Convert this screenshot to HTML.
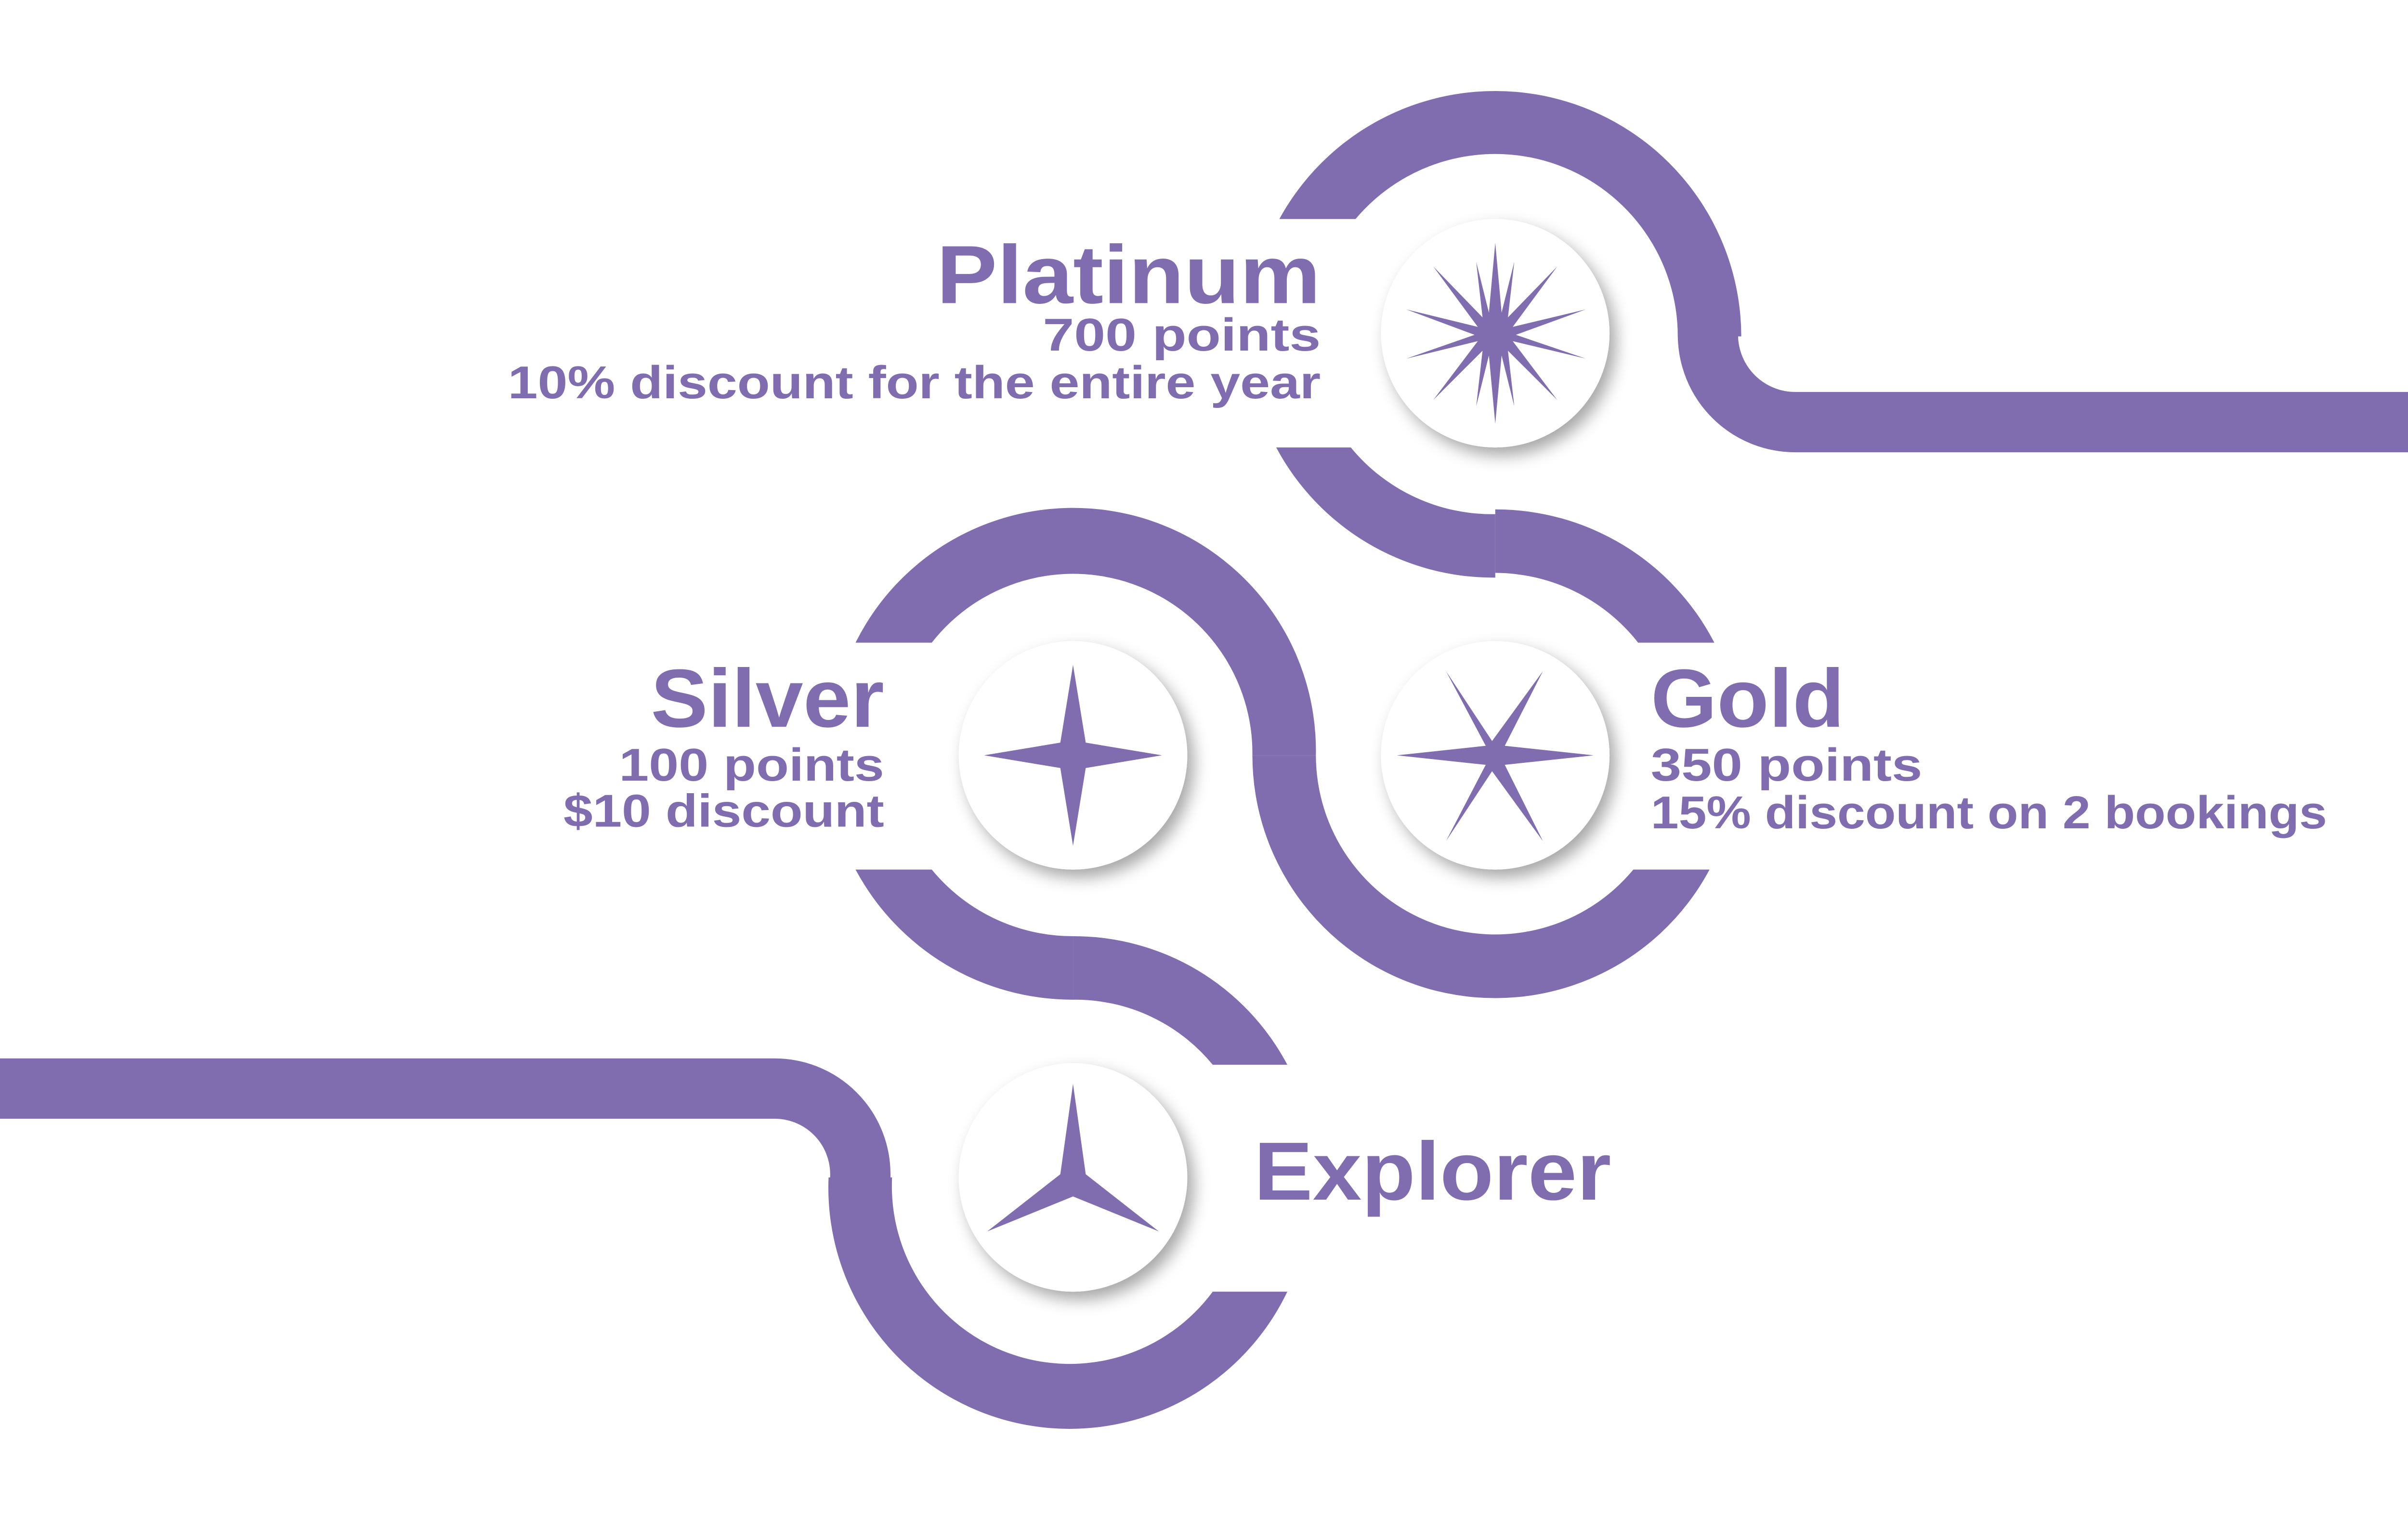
<!DOCTYPE html>
<html><head><meta charset="utf-8"><style>
html,body{margin:0;padding:0;background:#fff;}
svg{display:block;}
text{font-family:"Liberation Sans",sans-serif;font-weight:bold;fill:#7f6db0;}
</style></head><body>
<svg width="5168" height="3150" viewBox="0 0 1568 956" preserveAspectRatio="none" xmlns="http://www.w3.org/2000/svg">
<defs>
<filter id="sh" x="-30%" y="-30%" width="160%" height="160%">
<feDropShadow dx="4" dy="5" stdDeviation="5" flood-color="#000" flood-opacity="0.35"/>
</filter>
</defs>
<g fill="#7f6db0">
<path d="M806,138 A155,155 0 0 1 1097,212 L1057,212 A115,115 0 0 0 854,138 Z"/>
<path d="M804,282 A155,155 0 0 0 942,364 L942,324 A115,115 0 0 1 851,282 Z"/>
<path d="M942,321 A155,155 0 0 1 1080,405 L1032,405 A115,115 0 0 0 942,361 Z"/>
<path d="M1077,548 A153,153 0 0 1 789,476 L829,476 A113,113 0 0 0 1029,548 Z"/>
<path d="M539,405 A153,153 0 0 1 829,476 L789,476 A113,113 0 0 0 587,405 Z"/>
<path d="M539,548 A155,155 0 0 0 676,630 L676,590 A115,115 0 0 1 587,548 Z"/>
<path d="M676,590 A152,152 0 0 1 811,671 L764,671 A112,112 0 0 0 676,630 Z"/>
<path d="M811,814 A152,152 0 0 1 522,742 L562,742 A112,112 0 0 0 764,814 Z"/>
</g>
<g fill="none" stroke="#7f6db0" stroke-width="38">
<path d="M1076,205 L1076,212 A55,55 0 0 0 1131,266 L1568,266"/>
<path d="M542,748 L542,740 A54,54 0 0 0 488,686 L0,686"/>
</g>
<g fill="#fff" filter="url(#sh)">
<circle cx="942" cy="210" r="72"/>
<circle cx="676" cy="476" r="72"/>
<circle cx="942" cy="476" r="72"/>
<circle cx="676" cy="742" r="72"/>
</g>
<g fill="#7f6db0">
<polygon points="942,153 946,197 954,165 950,200 981,168 953,206 999,195 955,211 999,226 953,215 981,252 950,221 954,256 946,224 942,267 938,224 930,256 934,221 903,252 931,215 886,226 929,211 886,195 931,206 903,168 934,200 930,165 938,197"/>
<polygon points="911,423 940,467 972,423 948,470 1004,476 948,482 972,530 940,486 911,530 936,482 880,476 936,470"/>
<polygon points="676,419 684,468 732,476 684,484 676,533 668,484 620,476 668,468"/>
<polygon points="676,683 684,740 730,776 676,754 622,776 668,740"/>
</g>
<text x="832" y="191" text-anchor="end" font-size="52" textLength="242" lengthAdjust="spacingAndGlyphs">Platinum</text>
<text x="832" y="221" text-anchor="end" font-size="29" textLength="175" lengthAdjust="spacingAndGlyphs">700 points</text>
<text x="832" y="251" text-anchor="end" font-size="29" textLength="512" lengthAdjust="spacingAndGlyphs">10% discount for the entire year</text>
<text x="557" y="458" text-anchor="end" font-size="52" textLength="147" lengthAdjust="spacingAndGlyphs">Silver</text>
<text x="557" y="492" text-anchor="end" font-size="29" textLength="167" lengthAdjust="spacingAndGlyphs">100 points</text>
<text x="557" y="521" text-anchor="end" font-size="29" textLength="202" lengthAdjust="spacingAndGlyphs">$10 discount</text>
<text x="1040" y="458" font-size="52" textLength="122" lengthAdjust="spacingAndGlyphs">Gold</text>
<text x="1040" y="492" font-size="29" textLength="171" lengthAdjust="spacingAndGlyphs">350 points</text>
<text x="1040" y="522" font-size="29" textLength="426" lengthAdjust="spacingAndGlyphs">15% discount on 2 bookings</text>
<text x="790" y="756" font-size="52" textLength="225" lengthAdjust="spacingAndGlyphs">Explorer</text>
</svg>
</body></html>
